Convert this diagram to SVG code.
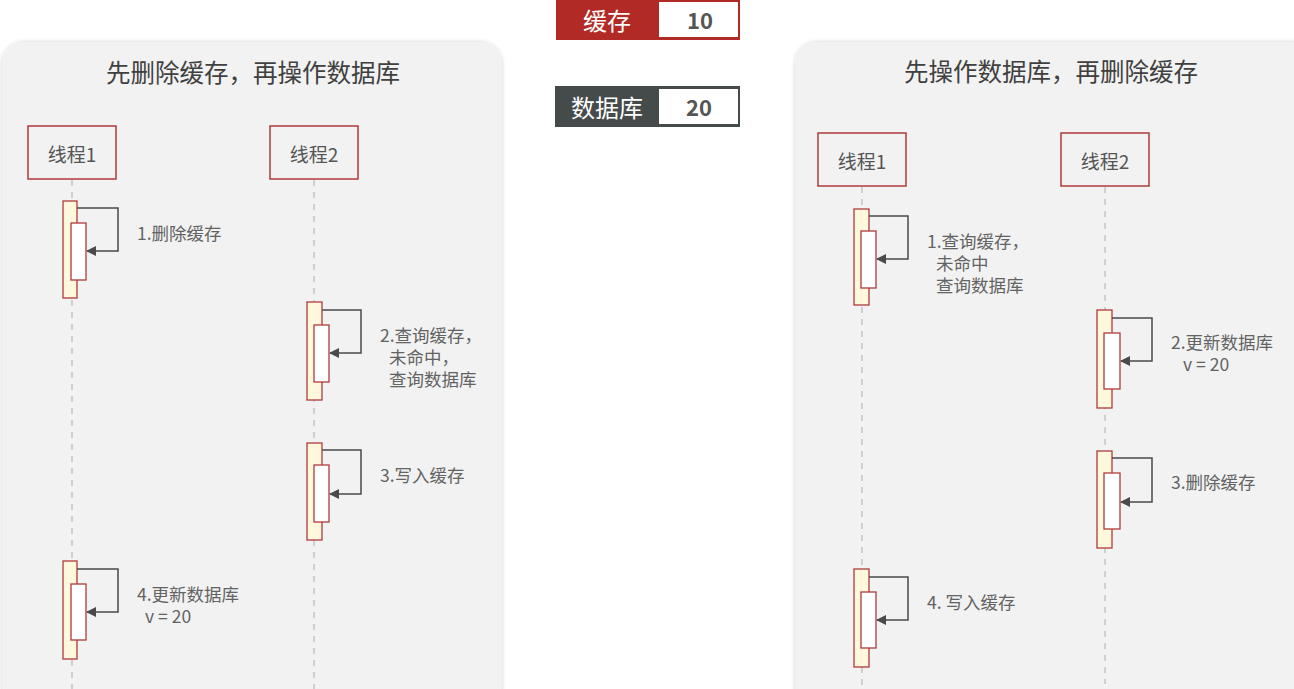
<svg xmlns="http://www.w3.org/2000/svg" width="1294" height="689" viewBox="0 0 1294 689">
<defs>
<marker id="ah" markerWidth="10" markerHeight="10" refX="9" refY="5" orient="auto" markerUnits="userSpaceOnUse">
<path d="M0,0 L10,5 L0,10 z" fill="#4a4a4a"/>
</marker>
<filter id="sh" x="-5%" y="-5%" width="110%" height="110%">
<feDropShadow dx="0" dy="0" stdDeviation="2" flood-color="#000" flood-opacity="0.18"/>
</filter>
</defs>
<style>
text{font-family:"Noto Sans CJK SC","Liberation Sans",sans-serif;}
.panel{fill:#f2f2f2;filter:url(#sh);}
.title{font-size:24.5px;fill:#404040;text-anchor:middle;dominant-baseline:central;}
.thread{fill:none;stroke:#b03a3a;stroke-width:1.5;}
.tt{font-size:19px;fill:#555;text-anchor:middle;dominant-baseline:central;}
.life{stroke:#c4c4c4;stroke-width:1.5;stroke-dasharray:6,6;fill:none;}
.outer{fill:#fff8dc;stroke:#b03a3a;stroke-width:1.3;}
.inner{fill:#fff;stroke:#b03a3a;stroke-width:1.3;}
.msg{fill:none;stroke:#4a4a4a;stroke-width:1.5;marker-end:url(#ah);}
.lb{font-size:17.5px;fill:#636363;dominant-baseline:central;}
.lgk{font-size:24px;fill:#fff;text-anchor:middle;dominant-baseline:central;}
.lgv{font-size:22px;font-weight:bold;fill:#555;text-anchor:middle;dominant-baseline:central;}
</style>
<rect width="1294" height="689" fill="#fff"/>

<g id="panel-left">
<rect class="panel" x="2" y="42" width="500" height="670" rx="22"/>
<text class="title" x="253" y="71">先删除缓存，再操作数据库</text>
</g>
<g id="panel-right">
<rect class="panel" x="795" y="42" width="520" height="670" rx="22"/>
<text class="title" x="1051" y="70">先操作数据库，再删除缓存</text>
</g>

<g id="legend-cache">
<rect x="556" y="0" width="184" height="40" fill="#b22a25"/>
<rect x="659" y="2" width="79" height="35" fill="#fff"/>
<text class="lgk" x="607" y="19">缓存</text>
<text class="lgv" x="700" y="19">10</text>
</g>
<g id="legend-db">
<rect x="555" y="86" width="185" height="41" fill="#454a4b"/>
<rect x="659" y="89" width="79" height="35" fill="#fff"/>
<text class="lgk" x="607" y="106">数据库</text>
<text class="lgv" x="699" y="106">20</text>
</g>

<g id="lifelines">
<line class="life" x1="72" y1="180" x2="72" y2="689"/>
<line class="life" x1="314" y1="180" x2="314" y2="689"/>
<line class="life" x1="862" y1="187" x2="862" y2="686"/>
<line class="life" x1="1105" y1="187" x2="1105" y2="684"/>
</g>

<g id="L-thread1">
<rect class="thread" x="28" y="126" width="88" height="53"/>
<text class="tt" x="72" y="153">线程1</text>
</g>
<g id="L-thread2">
<rect class="thread" x="270" y="126" width="88" height="53"/>
<text class="tt" x="314" y="153">线程2</text>
</g>
<g id="R-thread1">
<rect class="thread" x="818" y="133" width="88" height="53"/>
<text class="tt" x="862" y="160">线程1</text>
</g>
<g id="R-thread2">
<rect class="thread" x="1061" y="133" width="88" height="53"/>
<text class="tt" x="1105" y="160">线程2</text>
</g>

<g id="L-act1">
<rect class="outer" x="63" y="201" width="14" height="97"/>
<rect class="inner" x="71" y="223" width="15" height="57"/>
<text class="lb" x="137" y="232">1.删除缓存</text>
</g>
<g id="L-act2">
<rect class="outer" x="307" y="302" width="15" height="98"/>
<rect class="inner" x="314" y="325" width="15" height="57"/>
<text class="lb" x="380" y="334">2.查询缓存，</text>
<text class="lb" x="389" y="356">未命中，</text>
<text class="lb" x="389" y="378">查询数据库</text>
</g>
<g id="L-act3">
<rect class="outer" x="307" y="443" width="15" height="97"/>
<rect class="inner" x="314" y="465" width="15" height="57"/>
<text class="lb" x="380" y="474">3.写入缓存</text>
</g>
<g id="L-act4">
<rect class="outer" x="63" y="561" width="14" height="98"/>
<rect class="inner" x="71" y="584" width="15" height="56"/>
<text class="lb" x="137" y="593">4.更新数据库</text>
<text class="lb" x="145" y="615">v = 20</text>
</g>

<g id="R-act1">
<rect class="outer" x="854" y="209" width="15" height="96"/>
<rect class="inner" x="861" y="231" width="15" height="57"/>
<text class="lb" x="927" y="240">1.查询缓存，</text>
<text class="lb" x="936" y="262">未命中</text>
<text class="lb" x="936" y="284">查询数据库</text>
</g>
<g id="R-act2">
<rect class="outer" x="1097" y="310" width="15" height="98"/>
<rect class="inner" x="1104" y="333" width="16" height="56"/>
<text class="lb" x="1171" y="341">2.更新数据库</text>
<text class="lb" x="1183" y="363">v = 20</text>
</g>
<g id="R-act3">
<rect class="outer" x="1097" y="451" width="15" height="97"/>
<rect class="inner" x="1104" y="473" width="16" height="56"/>
<text class="lb" x="1171" y="481">3.删除缓存</text>
</g>
<g id="R-act4">
<rect class="outer" x="854" y="569" width="15" height="98"/>
<rect class="inner" x="861" y="592" width="15" height="56"/>
<text class="lb" x="927" y="601">4. 写入缓存</text>
</g>

<g id="connectors">
<path class="msg" d="M77,208 H118 V251 H87"/>
<path class="msg" d="M322,310 H361 V353 H330"/>
<path class="msg" d="M322,450 H361 V494 H330"/>
<path class="msg" d="M77,569 H118 V612 H87"/>
<path class="msg" d="M869,216 H908 V259 H877"/>
<path class="msg" d="M1112,318 H1152 V361 H1121"/>
<path class="msg" d="M1112,458 H1152 V502 H1121"/>
<path class="msg" d="M869,577 H908 V620 H877"/>
</g>
</svg>
